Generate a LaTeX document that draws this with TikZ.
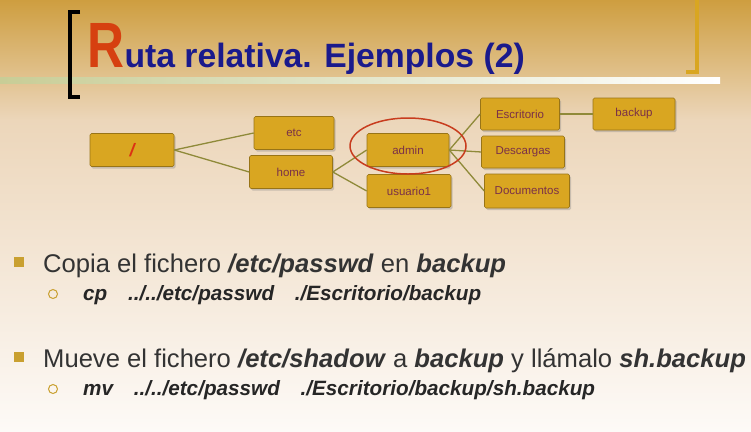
\documentclass[tikz,border=0pt]{standalone}
\usepackage{fontspec}
\setmainfont{Liberation Sans}
\usetikzlibrary{shadows,shapes.geometric}
\definecolor{gold}{HTML}{D9A621}
\definecolor{btxt}{HTML}{7A3048}
\definecolor{ttl}{HTML}{1A1A8C}
\definecolor{bul}{HTML}{C9A030}
\begin{document}
\begin{tikzpicture}[x=1pt,y=-1pt,
 box/.style={draw=gold!70!black,line width=0.6pt,fill=gold,rounded corners=1.5pt,minimum height=33pt,font=\fontsize{11.5}{13}\selectfont,text=btxt,drop shadow={shadow xshift=1.5pt,shadow yshift=-2pt,opacity=.35}},
 link/.style={draw=olive!60!gray,line width=1.3pt},
 txt/.style={anchor=base west,inner sep=0,text=black!80,font=\fontsize{25.6}{28}\selectfont},
 sub/.style={anchor=base west,inner sep=0,text=black!85,font=\fontsize{20.7}{22}\selectfont\bfseries\itshape}]
\useasboundingbox (0,0) rectangle (751,431);
\shade[top color={rgb,255:red,206;green,158;blue,64},bottom color={rgb,255:red,236;green,214;blue,186}] (0,0) rectangle (751,120);
\shade[top color={rgb,255:red,236;green,214;blue,186},bottom color={rgb,255:red,253;green,250;blue,247}] (0,120) rectangle (751,431);
\shade[left color={rgb,255:red,200;green,205;blue,150},right color=white] (0,77) rectangle (720,83);
% title
\draw[line width=4pt] (80,12) -- (70,12) -- (70,97) -- (80,97);
\draw[gold,line width=4pt] (697,0) -- (697,72) -- (686,72);
\node[anchor=base west,inner sep=0,text={rgb,255:red,214;green,64;blue,16},font=\fontsize{64}{64}\selectfont\bfseries] (R) at (87,67) {\scalebox{0.8}[1]{R}};
\node[anchor=base west,inner sep=0,text=ttl,font=\fontsize{33.7}{36}\selectfont\bfseries] (T) at (R.base east) {uta relativa. Ejemplos (2)};
% tree
\node[box,minimum width=84pt,text={rgb,255:red,220;green,50;blue,20},font=\fontsize{18}{18}\selectfont\bfseries\itshape] (root) at (132,150) {/};
\node[box,minimum width=80pt] (etc) at (294,133) {etc};
\node[box,minimum width=83pt] (home) at (291,172) {home};
\node[box,minimum width=82pt] (admin) at (408,150) {admin};
\node[box,minimum width=84pt] (usu) at (409,191) {usuario1};
\node[box,minimum width=79pt,minimum height=32pt] (esc) at (520,114) {Escritorio};
\node[box,minimum width=83pt,minimum height=32pt] (des) at (523,152) {Descargas};
\node[box,minimum width=85pt,minimum height=34pt] (doc) at (527,191) {Documentos};
\node[box,minimum width=82pt,minimum height=32pt] (bak) at (634,114) {backup};
\draw[link] (root.east) -- (etc.west);
\draw[link] (root.east) -- (home.west);
\draw[link] (home.east) -- (admin.west);
\draw[link] (home.east) -- (usu.west);
\draw[link] (admin.east) -- (esc.west);
\draw[link] (admin.east) -- (des.west);
\draw[link] (admin.east) -- (doc.west);
\draw[link] (esc.east) -- (bak.west);
\node[draw={rgb,255:red,200;green,60;blue,30},line width=1.5pt,ellipse,minimum width=116pt,minimum height=56pt] (ring) at (408,146) {};
% bullets
\fill[bul] (14,257) rectangle (24,267);
\node[txt] (l1) at (43,272) {Copia el fichero \textbf{\textit{/etc/passwd}} en \textbf{\textit{backup}}};
\draw[bul,line width=1pt] (53,294) circle (4.5pt);
\node[sub] (s1) at (83,300) {cp\hspace{1em}../../etc/passwd\hspace{1em}./Escritorio/backup};
\fill[bul] (14,352) rectangle (24,362);
\node[txt] (l2) at (43,367) {Mueve el fichero \textbf{\textit{/etc/shadow}} a \textbf{\textit{backup}} y llámalo \textbf{\textit{sh.backup}}};
\draw[bul,line width=1pt] (53,389) circle (4.5pt);
\node[sub] (s2) at (83,395) {mv\hspace{1em}../../etc/passwd\hspace{1em}./Escritorio/backup/sh.backup};
\end{tikzpicture}
\end{document}
